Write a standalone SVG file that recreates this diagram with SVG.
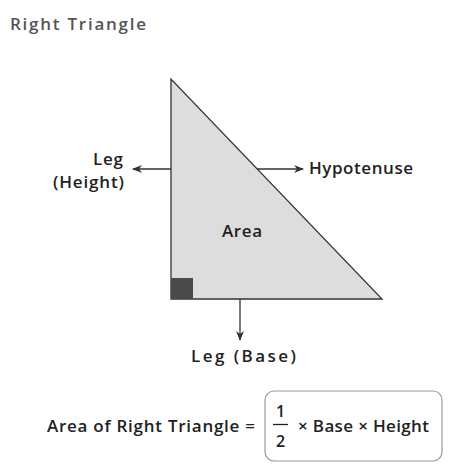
<svg xmlns="http://www.w3.org/2000/svg" width="474" height="474" viewBox="0 0 474 474">
<defs>
<marker id="ah" markerWidth="10" markerHeight="8" refX="9" refY="4" orient="auto" markerUnits="userSpaceOnUse">
<path d="M0,0 L10,4 L0,8 L3,4 Z" fill="#333"/>
</marker>
<style>
text{font-family:"Open Sans","Liberation Sans",sans-serif;fill:#222;font-size:17px;font-weight:600}
.c{stroke:#333;stroke-width:1.3;fill:none}
</style>
</defs>
<rect width="474" height="474" fill="#fff"/>
<text x="10" y="30" textLength="136" lengthAdjust="spacing" style="font-size:17px;fill:#555">Right Triangle</text>
<g id="triangle">
<polygon points="171,79 171,299 382,299" fill="#dddddd" stroke="#333" stroke-width="1.3"/>
<rect x="171" y="278" width="22" height="21" fill="#4a4a4a"/>
<text x="222" y="237" textLength="40" lengthAdjust="spacing">Area</text>
</g>
<g id="connectors">
<line class="c" x1="171" y1="169" x2="133" y2="169" marker-end="url(#ah)"/>
<line class="c" x1="257" y1="169" x2="303" y2="169" marker-end="url(#ah)"/>
<line class="c" x1="240" y1="299" x2="240" y2="340" marker-end="url(#ah)"/>
</g>
<g id="leg-height">
<text x="93" y="165" textLength="30" lengthAdjust="spacing">Leg</text>
<text x="53" y="188" textLength="71" lengthAdjust="spacing">(Height)</text>
</g>
<g id="hypotenuse">
<text x="309" y="174" textLength="104" lengthAdjust="spacing">Hypotenuse</text>
</g>
<g id="leg-base">
<text x="191" y="362" textLength="105" lengthAdjust="spacing">Leg (Base)</text>
</g>
<g id="formula">
<text x="47" y="432" textLength="208" lengthAdjust="spacing">Area of Right Triangle =</text>
<rect x="265" y="391" width="177" height="70" rx="9" fill="#fff" stroke="#999" stroke-width="1.2"/>
<text x="280.5" y="417" text-anchor="middle" style="font-size:16px">1</text>
<line x1="273" y1="424.5" x2="288" y2="424.5" stroke="#222" stroke-width="1.3"/>
<text x="280.5" y="447" text-anchor="middle" style="font-size:16px">2</text>
<text x="298" y="432" textLength="131" lengthAdjust="spacing">× Base × Height</text>
</g>
</svg>
